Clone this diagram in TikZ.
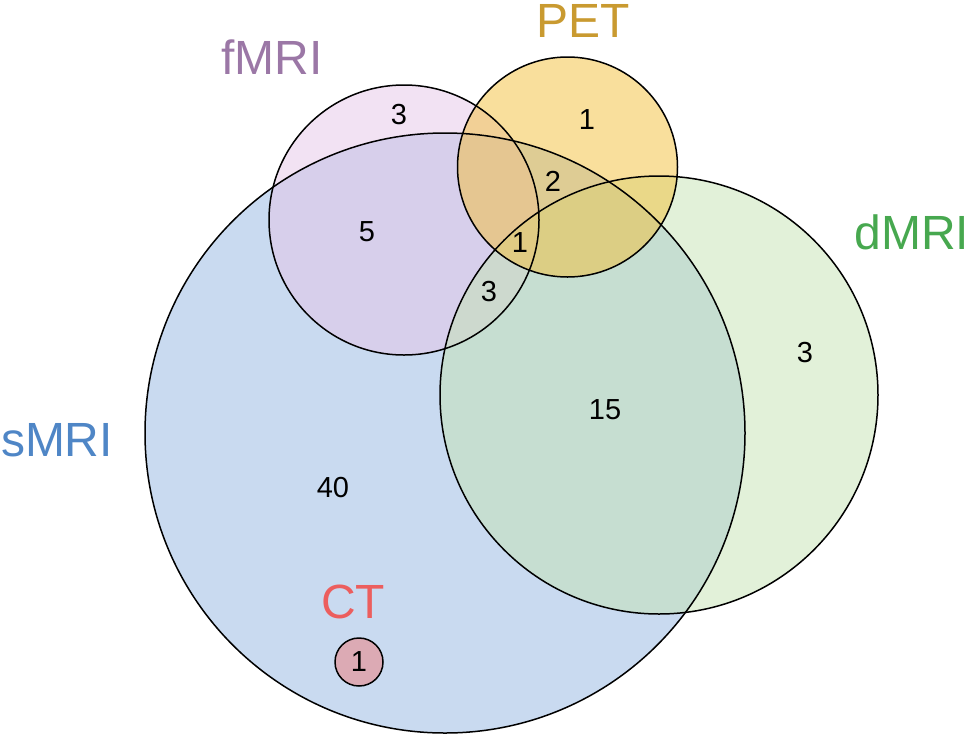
\documentclass[tikz,border=0pt]{standalone}
\usepackage{fontspec}
\setmainfont{Liberation Sans}
\definecolor{smricol}{HTML}{C9DAF0}
\definecolor{fmricol}{HTML}{E5C5E7}
\definecolor{dmricol}{HTML}{C5E3B3}
\definecolor{petcol}{HTML}{F3BF39}
\definecolor{ctcol}{HTML}{DCAAB4}
\definecolor{smrilab}{HTML}{4F86C6}
\definecolor{fmrilab}{HTML}{9B77A6}
\definecolor{petlab}{HTML}{C99A30}
\definecolor{dmrilab}{HTML}{47A84F}
\definecolor{ctlab}{HTML}{EC5E5E}
\tikzset{
  setlabel/.style={font=\fontsize{48}{48}\selectfont, inner sep=0pt},
  count/.style={font=\fontsize{29}{29}\selectfont, inner sep=0pt},
  ring/.style={draw=black, line width=1.5pt},
}
\begin{document}
\begin{tikzpicture}[x=1pt,y=-1pt]
\useasboundingbox (0,0) rectangle (969,737);
% fills
\fill[smricol] (445,433) circle (300pt);
\fill[fmricol, fill opacity=0.5] (404,220) circle (135pt);
\fill[dmricol, fill opacity=0.5] (659,395) circle (219pt);
\fill[petcol, fill opacity=0.5] (567.5,167) circle (110pt);
\fill[ctcol] (359,662) circle (24pt);
% outlines
\draw[ring] (445,433) circle (300pt);
\draw[ring] (404,220) circle (135pt);
\draw[ring] (659,395) circle (219pt);
\draw[ring] (567.5,167) circle (110pt);
\draw[ring] (359,662) circle (24pt);
% set labels
\node[setlabel, text=fmrilab] (lf) at (272,57) {fMRI};
\node[setlabel, text=petlab] (lp) at (583,21) {PET};
\node[setlabel, text=dmrilab] (ld) at (912,232) {dMRI};
\node[setlabel, text=smrilab] (ls) at (57,440) {sMRI};
\node[setlabel, text=ctlab] (lc) at (353,602) {CT};
% counts
\node[count] (n1) at (399,115) {3};
\node[count] (n2) at (587,120) {1};
\node[count] (n3) at (553,181) {2};
\node[count] (n4) at (367,232) {5};
\node[count] (n5) at (520,243) {1};
\node[count] (n6) at (489,292) {3};
\node[count] (n7) at (605,410) {15};
\node[count] (n8) at (805,353) {3};
\node[count] (n9) at (333,488) {40};
\node[count] (n10) at (359,662) {1};
\end{tikzpicture}
\end{document}
